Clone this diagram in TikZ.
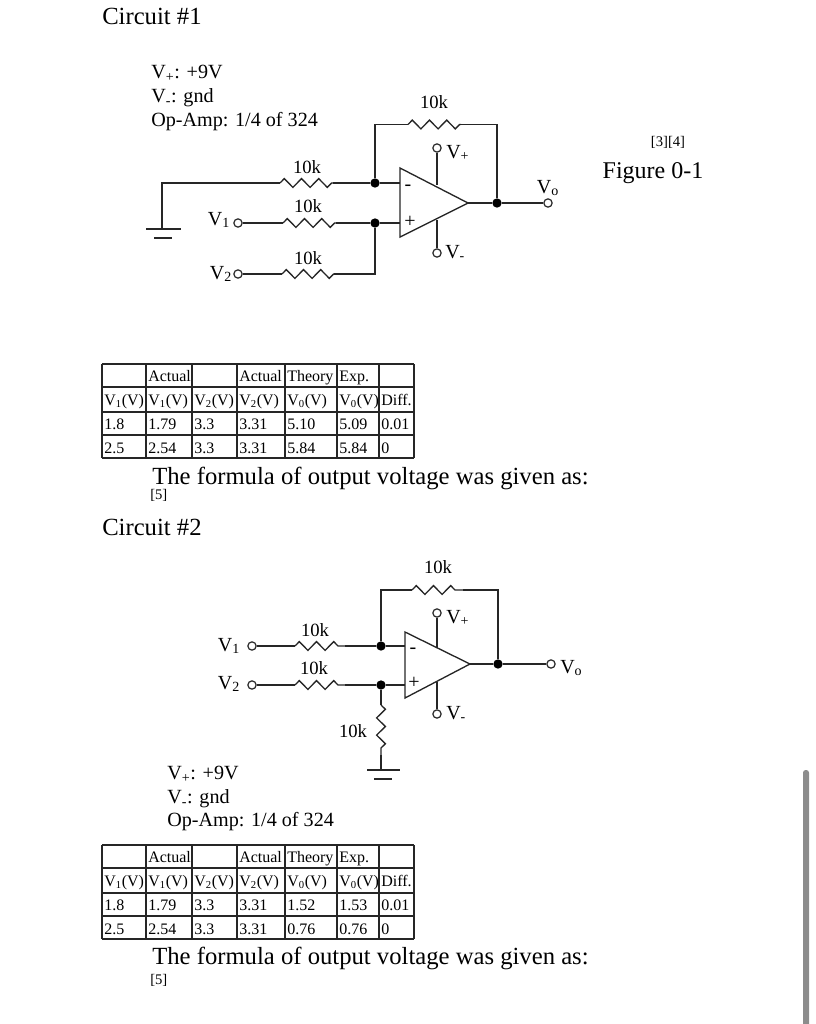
\documentclass[tikz,border=0pt]{standalone}
\usepackage{fontspec}
\setmainfont{Liberation Serif}
\usetikzlibrary{decorations.pathmorphing}

\tikzset{
  wire/.style={draw=black!85, line width=1pt},
  res/.style={wire, decorate, decoration={zigzag, segment length=12.9pt, amplitude=3.3pt}},
  jdot/.style={circle, fill=black, inner sep=0pt, minimum size=7pt},
  termc/.style={circle, draw=black!85, fill=white, line width=0.9pt, inner sep=0pt, minimum size=6.2pt},
  lab/.style={inner sep=0pt, font=\fontsize{14}{14}\selectfont},
  vlab/.style={inner sep=0pt, font=\fontsize{15}{15}\selectfont},
  notetxt/.style={inner sep=0pt, anchor=west, font=\fontsize{15.1}{16}\selectfont},
  headtxt/.style={inner sep=0pt, anchor=west, font=\fontsize{18.5}{18}\selectfont},
  smalltxt/.style={inner sep=0pt, anchor=west, font=\fontsize{11}{11}\selectfont},
  celltxt/.style={inner sep=0pt, anchor=base west, font=\fontsize{12}{12}\selectfont},
  tabline/.style={draw=black!85, line width=1.4pt}
}

\newcommand{\Vs}[2]{V\textsubscript{#1}#2}

% table of the measured values
\newcommand{\ResultTable}[4]{
  \begin{scope}[shift={(0,#2)}]
  \foreach \x in {102,146,192,237,285,337,379,414}
    \draw[tabline] (\x,364) -- (\x,458);
  \foreach \y in {364,387,412,435,458}
    \draw[tabline] (102,\y) -- (414,\y);
  \foreach \Name/\x/\Txt in {a/148/Actual,b/239/Actual,c/287/Theory,d/339/Exp.}
    \node[celltxt] (#1\Name) at (\x,381) {\Txt};
  \foreach \Name/\x/\Txt in {e/104/\Vs{1}{(V)},f/148/\Vs{1}{(V)},g/194/\Vs{2}{(V)},h/239/\Vs{2}{(V)},i/287/\Vs{0}{(V)},j/339/\Vs{0}{(V)},k/381/Diff.}
    \node[celltxt] (#1\Name) at (\x,405) {\Txt};
  \foreach \Name/\x/\Txt in {#3}
    \node[celltxt] (#1\Name) at (\x,429) {\Txt};
  \foreach \Name/\x/\Txt in {#4}
    \node[celltxt] (#1\Name) at (\x,453) {\Txt};
  \end{scope}
}

\begin{document}
\begin{tikzpicture}[x=0.75pt, y=-0.75pt]
  \useasboundingbox (0,0) rectangle (816,1024);

  % scroll bar
  \fill[black!45, rounded corners=2pt] (803,770) rectangle (809,1030);

  \node[headtxt] (title1) at (102,16) {Circuit \#1};
  \node[notetxt] (sup1) at (151,73) {\Vs{+}{: +9V}};
  \node[notetxt] (sub1) at (151,98) {\Vs{-}{:  gnd}};
  \node[notetxt] (amp1) at (151,122) {Op-Amp: 1/4 of 324};
  \node[smalltxt, anchor=center] (ref) at (668,142) {[3][4]};
  \node[headtxt, anchor=center, font=\fontsize{18}{18}\selectfont] (fig) at (653,173) {Figure 0-1};

%Primero el circuito de arriba
  \foreach \Name/\px/\py in {ta/400/168,tb/400/237,tc/468/203,
  in1/400/183,in2/400/223,gnd/162/229,gbend/162/183,
  ra1/280/183,rb1/333/183,ra2/283/223,rb2/336/223,
  ra3/282/274,rb3/334/274,cn3/375/274,
  ra4/408/124.5,rb4/461/124.5,fb1/375/124.5,fb2/497/124.5,
  sp/437/185,sm/437/220,g1l/146/229,g1r/181/229,g2l/154/238,g2r/172/238}{
     \coordinate (\Name) at (\px,\py);
  }
  \node[jdot] (jm) at (375,183) {};
  \node[jdot] (jp) at (375,223) {};
  \node[jdot] (jo) at (497,203) {};
  \node[termc] (v1) at (238,223) {};
  \node[termc] (v2) at (238,274) {};
  \node[termc] (vo) at (548,203) {};
  \node[termc] (vp) at (437,148) {};
  \node[termc] (vm) at (437,253) {};

  \draw[wire, line join=miter] (ta) -- (tc) -- (tb) -- cycle;
  \draw[wire] (gnd) -- (gbend) -- (ra1);
  \draw[res] (ra1) -- (rb1);
  \draw[wire] (rb1) -- (jm) -- (in1);
  \draw[wire] (v1) -- (ra2);
  \draw[res] (ra2) -- (rb2);
  \draw[wire] (rb2) -- (jp) -- (in2);
  \draw[wire] (v2) -- (ra3);
  \draw[res] (ra3) -- (rb3);
  \draw[wire] (rb3) -- (cn3) -- (jp);
  \draw[wire] (jm) -- (fb1) -- (ra4);
  \draw[res] (ra4) -- (rb4);
  \draw[wire] (rb4) -- (fb2) -- (jo);
  \draw[wire] (tc) -- (jo) -- (vo);
  \draw[wire] (vp) -- (sp);
  \draw[wire] (vm) -- (sm);
  \draw[wire] (g1l) -- (g1r);
  \draw[wire] (g2l) -- (g2r);

  \node[lab] (l1) at (307,167) {10k};
  \node[lab] (l2) at (308,206) {10k};
  \node[lab] (l3) at (308,258) {10k};
  \node[lab] (l4) at (434,102) {10k};
  \node[vlab] (nv1) at (219,220) {\Vs{1}{}};
  \node[vlab] (nv2) at (221,274) {\Vs{2}{}};
  \node[vlab] (nvo) at (548,188) {\Vs{o}{}};
  \node[vlab, anchor=west] (nvp) at (446,153) {\Vs{+}{}};
  \node[vlab, anchor=west] (nvm) at (445,253) {\Vs{-}{}};
  \node[vlab] (minus1) at (408,188) {-};
  \node[vlab] (plus1) at (410,222) {+};

  \ResultTable{p}{0}{l/104/1.8,m/148/1.79,n/194/3.3,o/239/3.31,q/287/5.10,r/339/5.09,s/381/0.01}{t/104/2.5,u/148/2.54,v/194/3.3,w/239/3.31,x/287/5.84,y/339/5.84,z/381/0}

  \node[headtxt] (form1) at (152,478) {The formula of output voltage was given as:};
  \node[smalltxt] (cite1) at (150,495) {[5]};

%Ahora el circuito de abajo
  \node[headtxt] (title2) at (102,527) {Circuit \#2};
  \node[notetxt] (sup2) at (167,774) {\Vs{+}{: +9V}};
  \node[notetxt] (sub2) at (167,799) {\Vs{-}{:  gnd}};
  \node[notetxt] (amp2) at (167,822) {Op-Amp: 1/4 of 324};

  \foreach \Name/\px/\py in {tA/405/632,tB/405/698,tC/470/664,
  inA/405/646,inB/405/685,
  rA1/295/646,rB1/345/646,rA2/295/685,rB2/345/685,
  rA3/381/705,rB3/381/755,ggnd/381/770,
  rA4/412/590,rB4/463/590,fbA/381/590,fbB/498/590,
  sP/437/648,sM/437/682,gAl/367/770,gAr/400/770,gBl/374/779,gBr/392/779}{
     \coordinate (\Name) at (\px,\py);
  }
  \node[jdot] (jM) at (381,646) {};
  \node[jdot] (jP) at (381,685) {};
  \node[jdot] (jO) at (498,664) {};
  \node[termc] (vA) at (252,646) {};
  \node[termc] (vB) at (252,685) {};
  \node[termc] (vO) at (551,664) {};
  \node[termc] (vP) at (437,613) {};
  \node[termc] (vM) at (437,714) {};

  \draw[wire, line join=miter] (tA) -- (tC) -- (tB) -- cycle;
  \draw[wire] (vA) -- (rA1);
  \draw[res] (rA1) -- (rB1);
  \draw[wire] (rB1) -- (jM) -- (inA);
  \draw[wire] (vB) -- (rA2);
  \draw[res] (rA2) -- (rB2);
  \draw[wire] (rB2) -- (jP) -- (inB);
  \draw[wire] (jP) -- (rA3);
  \draw[res] (rA3) -- (rB3);
  \draw[wire] (rB3) -- (ggnd);
  \draw[wire] (jM) -- (fbA) -- (rA4);
  \draw[res] (rA4) -- (rB4);
  \draw[wire] (rB4) -- (fbB) -- (jO);
  \draw[wire] (tC) -- (jO) -- (vO);
  \draw[wire] (vP) -- (sP);
  \draw[wire] (vM) -- (sM);
  \draw[wire] (gAl) -- (gAr);
  \draw[wire] (gBl) -- (gBr);

  \node[lab] (L1) at (315,630) {10k};
  \node[lab] (L2) at (314,668) {10k};
  \node[lab] (L3) at (353,731) {10k};
  \node[lab] (L4) at (438,567) {10k};
  \node[vlab] (nvA) at (229,646) {\Vs{1}{}};
  \node[vlab] (nvB) at (229,684) {\Vs{2}{}};
  \node[vlab, anchor=west] (nvO) at (560,668) {\Vs{o}{}};
  \node[vlab, anchor=west] (nvP) at (446,618) {\Vs{+}{}};
  \node[vlab, anchor=west] (nvM) at (446,714) {\Vs{-}{}};
  \node[vlab] (minus2) at (413,651) {-};
  \node[vlab] (plus2) at (414,683) {+};

  \ResultTable{P}{481}{l/104/1.8,m/148/1.79,n/194/3.3,o/239/3.31,q/287/1.52,r/339/1.53,s/381/0.01}{t/104/2.5,u/148/2.54,v/194/3.3,w/239/3.31,x/287/0.76,y/339/0.76,z/381/0}

  \node[headtxt] (form2) at (152,958) {The formula of output voltage was given as:};
  \node[smalltxt] (cite2) at (150,980) {[5]};
\end{tikzpicture}
\end{document}
